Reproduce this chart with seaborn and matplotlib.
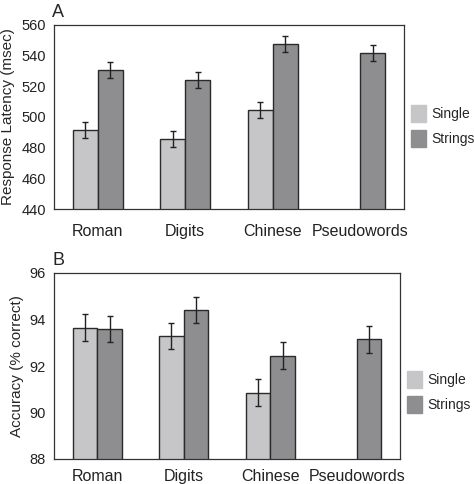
import pandas as pd
import matplotlib
matplotlib.use("Agg")
import matplotlib.pyplot as plt
import matplotlib.patches as mpatches
import seaborn as sns

# cores
CINZA_CLARO = "#c6c6c8"
CINZA_ESCURO = "#8e8e90"

categorias = ["Roman", "Digits", "Chinese", "Pseudowords"]
condicoes = ["Single", "Strings"]

# painel A - latencia (msec); Pseudowords sem "Single"
lat_single = [491.5, 485.4, 504.4, None]
lat_strings = [530.5, 524.4, 547.6, 541.7]
lat_err_single = [5.2, 5.2, 5.2, None]
lat_err_strings = [5.2, 5.2, 5.2, 5.2]

# painel B - acuracia (% correto)
acc_single = [93.65, 93.3, 90.86, None]
acc_strings = [93.6, 94.4, 92.45, 93.15]
acc_err_single = [0.57, 0.57, 0.57, None]
acc_err_strings = [0.57, 0.57, 0.57, 0.57]

sns.set_style("white")
plt.rcParams["font.family"] = ["Liberation Sans", "DejaVu Sans"]


def montar(single, strings, err_s, err_t):
    linhas = []
    for c, a, b, ea, eb in zip(categorias, single, strings, err_s, err_t):
        if a is not None:
            linhas.append({"cat": c, "cond": "Single", "val": a, "err": ea})
        linhas.append({"cat": c, "cond": "Strings", "val": b, "err": eb})
    return pd.DataFrame(linhas)


def painel(ax, df, ylim, ticks, ylabel, letra, leg_y, xpad):
    sns.barplot(data=df, x="cat", y="val", hue="cond", order=categorias,
                hue_order=condicoes, palette=[CINZA_CLARO, CINZA_ESCURO],
                width=0.57, edgecolor="#2a2a2a", linewidth=1.0,
                errorbar=None, legend=False, ax=ax)
    # barras de erro nas posicoes das barras desenhadas
    for cont, cond in zip(ax.containers, condicoes):
        sub = df[df["cond"] == cond].set_index("cat")
        for patch, cat in zip(cont.patches, [c for c in categorias if c in sub.index]):
            x = patch.get_x() + patch.get_width() / 2
            ax.errorbar(x, sub.loc[cat, "val"], yerr=sub.loc[cat, "err"],
                        fmt="none", ecolor="#222222", elinewidth=1.0,
                        capsize=2.2, capthick=1.0)
    ax.set_ylim(*ylim)
    ax.set_yticks(ticks)
    ax.set_xlim(-0.5, 3.5)
    ax.set_xlabel("")
    ax.set_ylabel(ylabel, fontsize=11)
    ax.tick_params(axis="y", length=0, labelsize=10.5, colors="#222222", pad=6)
    ax.tick_params(axis="x", length=0, labelsize=11.5, colors="#222222", pad=xpad)
    for s in ax.spines.values():
        s.set_visible(True)
        s.set_color("#333333")
        s.set_linewidth(0.9)
    ax.text(-0.005, 1.02, letra, transform=ax.transAxes, fontsize=13,
            ha="left", va="bottom")
    handles = [mpatches.Patch(color=CINZA_CLARO, label="Single"),
               mpatches.Patch(color=CINZA_ESCURO, label="Strings")]
    ax.legend(handles=handles, loc="center left", bbox_to_anchor=(1.02, leg_y),
              frameon=False, fontsize=10, handlelength=1.1, handleheight=1.5,
              handletextpad=0.35, labelspacing=0.55, borderaxespad=0,
              borderpad=0)


fig = plt.figure(figsize=(4.74, 4.84), dpi=100)
ax1 = fig.add_axes([54 / 474, 1 - 209 / 484, 350 / 474, 184 / 484])
ax2 = fig.add_axes([54 / 474, 1 - 459 / 484, 346 / 474, 186 / 484])

painel(ax1, montar(lat_single, lat_strings, lat_err_single, lat_err_strings),
       (440, 560), [440, 460, 480, 500, 520, 540, 560],
       "Response Latency (msec)", "A", 0.45, 11)
painel(ax2, montar(acc_single, acc_strings, acc_err_single, acc_err_strings),
       (88, 96), [88, 90, 92, 94, 96], "Accuracy (% correct)", "B", 0.36, 7)

fig.savefig("out.png", dpi=100)
